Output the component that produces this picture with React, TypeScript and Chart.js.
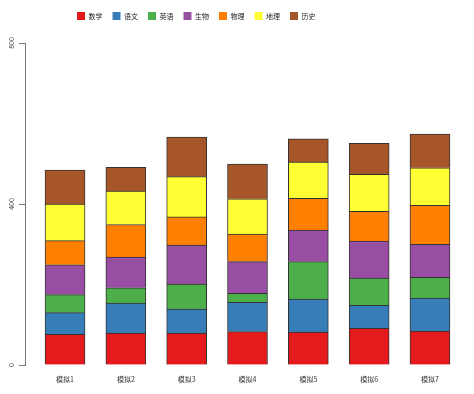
import React, { useEffect, useRef } from "react";
import { Chart, registerables } from "chart.js";

Chart.register(...registerables);

const categories = ["模拟1", "模拟2", "模拟3", "模拟4", "模拟5", "模拟6", "模拟7"];
const seriesNames = ["数学", "语文", "英语", "生物", "物理", "地理", "历史"];
const math = [76, 79, 79, 83, 82, 91, 84];
const chinese = [54, 75, 60, 73, 82, 57, 82];
const english = [45, 38, 62, 22, 93, 68, 52];
const biology = [74, 76, 97, 79, 78, 92, 82];
const physics = [60, 81, 70, 68, 79, 74, 97];
const geography = [91, 83, 100, 88, 90, 92, 93];
const history = [84, 59, 98, 86, 58, 77, 84];
const yTicks = [0, 400, 800];

const seriesValues = [math, chinese, english, biology, physics, geography, history];
const colors = ["#E41A1C", "#377EB8", "#4DAF4A", "#984EA3", "#FF7F00", "#FFFF33", "#A65628"];

const FONT = "'Noto Sans CJK SC', 'Noto Sans', sans-serif";

export default function App() {
  const ref = useRef<HTMLCanvasElement | null>(null);

  useEffect(() => {
    if (!ref.current) return;
    const legendPlugin = {
      id: "legendShift",
      afterLayout(chart: any) {
        const lg = chart.legend;
        if (!lg) return;
        const w = lg.right - lg.left;
        lg.left = 67;
        lg.right = 67 + w;
        lg.top = 2;
      },
    };
    const legendFit = {
      id: "legendFit",
      beforeInit(chart: any) {
        const lg = chart.legend;
        if (!lg) return;
        const orig = lg.fit;
        lg.fit = function () {
          orig.call(this);
          this.height = 43;
        };
      },
    };
    const chart = new Chart(ref.current, {
      type: "bar",
      data: {
        datasets: seriesNames.map((name, si) => ({
          label: name,
          data: seriesValues[si].map((v, i) => ({ x: i + 1, y: v })),
          backgroundColor: colors[si],
          borderColor: "#333",
          borderWidth: 1,
          barThickness: 40,
        })),
      },
      options: {
        animation: false,
        responsive: true,
        maintainAspectRatio: false,
        layout: { padding: { left: 0, right: 4, top: 0, bottom: 0 } },
        plugins: {
          tooltip: { enabled: false },
          legend: {
            position: "top",
            align: "start",
            labels: {
              boxWidth: 8,
              boxHeight: 8,
              padding: 10,
              color: "#222",
              font: { family: FONT, size: 7 },
              generateLabels(chart: any) {
                return chart.data.datasets.map((ds: any, i: number) => ({
                  text: ds.label,
                  fillStyle: ds.backgroundColor,
                  strokeStyle: ds.backgroundColor,
                  lineWidth: 0,
                  datasetIndex: i,
                  hidden: false,
                  fontColor: "#222",
                }));
              },
            },
          },
        },
        scales: {
          x: {
            type: "linear",
            stacked: true,
            offset: false,
            min: 0.342,
            max: 7.658,
            grid: { display: false, drawTicks: false, offset: false },
            border: { display: false },
            afterFit(scale: any) {
              scale.height = 29;
            },
            ticks: {
              stepSize: 1,
              includeBounds: false,
              autoSkip: false,
              maxRotation: 0,
              padding: 10,
              color: "#333",
              font: { family: FONT, size: 7 },
              callback: (v: any) => {
                const i = Math.round(Number(v)) - 1;
                return Number.isInteger(Number(v)) && categories[i] ? categories[i] : "";
              },
            },
          },
          y: {
            stacked: true,
            min: 0,
            max: 800,
            afterFit(scale: any) {
              scale.width = 25;
            },
            afterBuildTicks(scale: any) {
              scale.ticks = yTicks.map((v) => ({ value: v }));
            },
            grid: { drawOnChartArea: false, drawTicks: true, tickLength: 6, color: "#777" },
            border: { display: true, color: "#777", width: 1 },
            ticks: {
              minRotation: 90,
              maxRotation: 90,
              crossAlign: "center",
              padding: 2,
              color: "#444",
              font: { family: FONT, size: 7 },
            },
          },
        },
      },
      plugins: [legendFit, legendPlugin],
    } as any);
    return () => chart.destroy();
  }, []);

  return (
    <div style={{ position: "fixed", left: 0, top: 0, width: 474, height: 394, background: "#fff" }}>
      <canvas ref={ref} />
    </div>
  );
}
